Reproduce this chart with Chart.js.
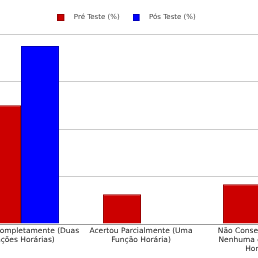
<!DOCTYPE html>
<html lang="pt-BR">
<head>
<meta charset="utf-8">
<title>Pré Teste x Pós Teste</title>
<script src="https://cdn.jsdelivr.net/npm/chart.js@4/dist/chart.umd.min.js"></script>
<style>
    html, body {
        margin: 0;
        padding: 0;
        width: 258px;
        height: 258px;
        overflow: hidden;
        background: #fff;
    }
    /* Il grafico è più largo della finestra: si vede solo la parte centrale */
    #chart-wrap {
        position: absolute;
        left: -68px;
        top: 0;
        width: 389px;
        height: 258px;
    }
</style>
</head>
<body>
<div id="chart-wrap"><canvas id="teste-chart"></canvas></div>
<script>
// Dati del grafico
const categorias = [
    ['Acertou Completamente (Duas', 'Funções Horárias)'],
    ['Acertou Parcialmente (Uma', 'Função Horária)'],
    ['Não Conseguiu Acertar', 'Nenhuma das Funções', 'Horárias']
];
const preTeste = [50, 12.5, 16.7];
const posTeste = [75, 0, 0];
const yTicks = [0, 20, 40, 60, 80];

const FONT = '"DejaVu Sans", Verdana, sans-serif';

/**
 * Quadratino della legenda: 7x7 a sinistra, il resto trasparente
 * (così il testo sta più staccato dal box)
 */
function makeSwatch(fill, border) {
    const c = document.createElement('canvas');
    c.width = 13;
    c.height = 7;
    const g = c.getContext('2d');
    g.fillStyle = border;
    g.fillRect(0, 0, 7, 7);
    g.fillStyle = fill;
    g.fillRect(1, 1, 5, 5);
    return c;
}

// Un po' di spazio in più sotto la legenda
const legendGap = {
    id: 'legendGap',
    beforeInit(chart) {
        const legend = chart.legend;
        if (!legend) return;
        const fit = legend.fit;
        legend.fit = function() {
            fit.call(this);
            this.height += 3;
        };
    }
};

const ctx = document.getElementById('teste-chart');

new Chart(ctx, {
    type: 'bar',
    data: {
        labels: categorias,
        datasets: [
            {
                label: 'Pré Teste (%)',
                data: preTeste,
                backgroundColor: '#cc0000',
                borderColor: '#990000',
                borderWidth: 1,
                categoryPercentage: 0.633,
                barPercentage: 1
            },
            {
                label: 'Pós Teste (%)',
                data: posTeste,
                backgroundColor: '#0000ff',
                borderColor: '#0000bb',
                borderWidth: 1,
                categoryPercentage: 0.633,
                barPercentage: 1
            }
        ]
    },
    options: {
        responsive: true,
        maintainAspectRatio: false,
        animation: false,
        layout: {
            padding: { top: 1 }
        },
        plugins: {
            legend: {
                position: 'top',
                labels: {
                    usePointStyle: true,
                    pointStyleWidth: 13,
                    boxHeight: 7,
                    padding: 13,
                    color: '#444',
                    font: { size: 7, family: FONT },
                    generateLabels: function(chart) {
                        const items = Chart.defaults.plugins.legend.labels.generateLabels(chart);
                        items.forEach(item => {
                            item.pointStyle = makeSwatch(item.fillStyle, item.strokeStyle);
                        });
                        return items;
                    }
                }
            },
            tooltip: { enabled: false }
        },
        scales: {
            x: {
                grid: { display: false, drawTicks: false },
                border: { color: '#999' },
                ticks: {
                    maxRotation: 0,
                    minRotation: 0,
                    autoSkip: false,
                    padding: 3,
                    color: '#222',
                    font: { size: 7.5, family: FONT, lineHeight: 1.2 }
                },
                afterFit: scale => { scale.height = 34; }
            },
            y: {
                min: yTicks[0],
                max: yTicks[yTicks.length - 1],
                grid: { color: '#ccc', drawTicks: false },
                border: { display: false },
                ticks: {
                    stepSize: yTicks[1] - yTicks[0],
                    padding: 6,
                    color: '#444',
                    font: { size: 7.5, family: FONT }
                },
                afterFit: scale => { scale.width = 29; }
            }
        }
    },
    plugins: [legendGap]
});
</script>
</body>
</html>
